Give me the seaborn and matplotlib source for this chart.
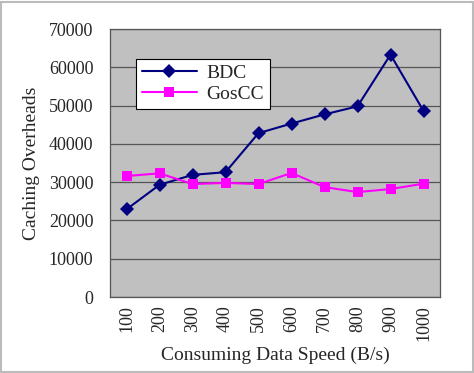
import numpy as np
import pandas as pd
import seaborn as sns
import matplotlib.pyplot as plt
from matplotlib.patches import Rectangle

# data
speeds = ['100', '200', '300', '400', '500', '600', '700', '800', '900', '1000']
bdc = [22900, 29300, 31900, 32600, 42800, 45300, 47700, 49800, 63300, 48600]
goscc = [31600, 32300, 29500, 29800, 29500, 32400, 28700, 27400, 28200, 29600]

df = pd.DataFrame({'speed': speeds * 2,
                   'overhead': bdc + goscc,
                   'series': ['BDC'] * len(speeds) + ['GosCC'] * len(speeds)})

sns.set_style('white')
plt.rcParams['font.family'] = ['Liberation Serif', 'DejaVu Serif']

fig = plt.figure(figsize=(4.74, 3.73), dpi=100)
ax = fig.add_axes([110 / 474, 1 - 297 / 373, 330 / 474, 268 / 373])
ax.set_facecolor('#c0c0c0')

sns.lineplot(data=df, x='speed', y='overhead', hue='series', style='series',
             palette={'BDC': '#000080', 'GosCC': '#ff00ff'},
             markers={'BDC': 'D', 'GosCC': 's'}, dashes=False,
             markersize=7, linewidth=1.5, markeredgewidth=0, sort=False, ax=ax)

ax.set_xlim(-0.5, len(speeds) - 0.5)
ax.set_ylim(0, 70000)
ax.set_yticks(np.arange(0, 70001, 10000))
ax.yaxis.grid(True, color='#555555', linewidth=0.9)
ax.set_axisbelow(True)

ax.set_xticks(range(len(speeds)))
ax.set_xticklabels(speeds, rotation=90)
ax.set_xticks(np.arange(0.5, len(speeds) - 1, 1), minor=True)
ax.tick_params(axis='x', which='major', length=0, pad=6, labelsize=13)
ax.tick_params(axis='x', which='minor', direction='in', length=7, color='#555555', width=0.9)
ax.tick_params(axis='y', length=3, color='#555555', labelsize=13, pad=9)

for side in ax.spines.values():
    side.set_color('#555555')
    side.set_linewidth(0.9)

ax.set_xlabel('Consuming Data Speed (B/s)', fontsize=14, labelpad=4)
ax.set_ylabel('Caching Overheads', fontsize=14, labelpad=6)

leg = ax.legend(loc='upper left', bbox_to_anchor=(0.05, 0.925), fontsize=14,
                frameon=True, fancybox=False, framealpha=1, edgecolor='black',
                handlelength=2.8, borderpad=0.3, labelspacing=0.15, handletextpad=0.5)
leg.get_frame().set_linewidth(0.8)

# light frame round the whole figure
fig.patches.append(Rectangle((0.003, 0.003), 0.994, 0.992, transform=fig.transFigure,
                             fill=False, edgecolor='#bbbbbb', linewidth=1.5))

fig.savefig('out.png', dpi=100)
